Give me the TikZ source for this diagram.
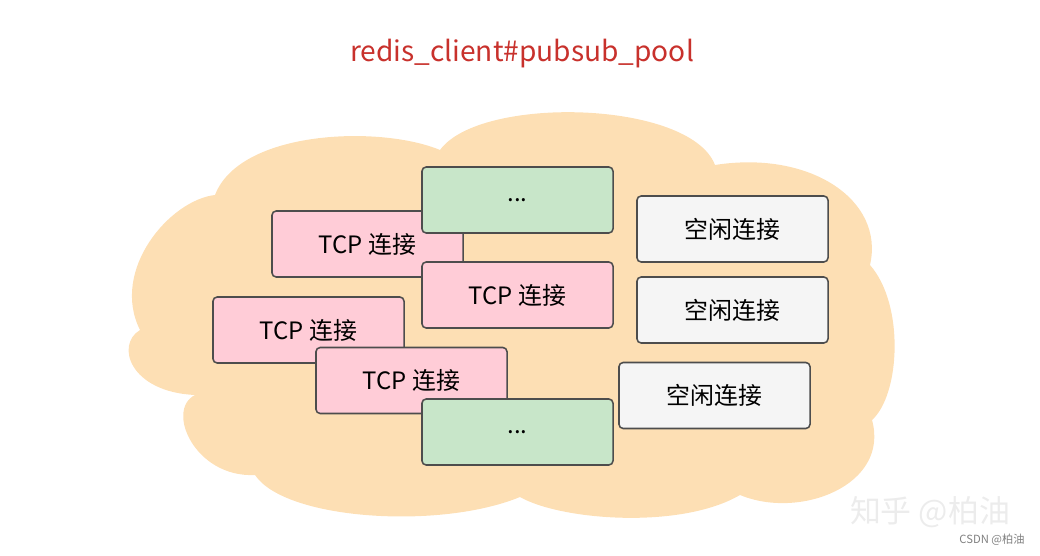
\documentclass[tikz,border=0pt]{standalone}
\usepackage{fontspec}
\setmainfont{Noto Sans CJK SC}
\usetikzlibrary{positioning}
\definecolor{cloudfill}{HTML}{FDDFB4}
\definecolor{tcpfill}{HTML}{FFCCD7}
\definecolor{dotsfill}{HTML}{C8E6C9}
\definecolor{idlefill}{HTML}{F5F5F5}
\definecolor{titlered}{HTML}{C8312C}
\definecolor{edgegray}{HTML}{4D4D4D}

\begin{document}
\begin{tikzpicture}
[x=0.025cm,y=-0.025cm,
 conn/.style={draw=edgegray,line width=1.1pt,rounded corners=3pt,minimum width=4.775cm,minimum height=1.65cm,inner sep=0pt,font=\fontsize{17}{20}\selectfont},
 tcpbox/.style={conn,fill=tcpfill},
 dotsbox/.style={conn,fill=dotsfill},
 idlebox/.style={conn,fill=idlefill}]
\useasboundingbox (0,0) rectangle (1040,556);

% title
\node[text=titlered,font=\fontsize{20}{24}\selectfont](title) at (522,54){redis\_client\#pubsub\_pool};

% cloud
\fill[cloudfill] (140,330) .. controls (110,270) and (170,200) .. (215,195)
 .. controls (240,130) and (380,125) .. (440,150)
 .. controls (480,95) and (690,100) .. (715,165)
 .. controls (810,150) and (885,200) .. (870,265)
 .. controls (905,305) and (900,395) .. (872,420)
 .. controls (890,485) and (800,520) .. (740,495)
 .. controls (680,530) and (560,520) .. (520,497)
 .. controls (440,530) and (285,520) .. (255,475)
 .. controls (195,478) and (165,410) .. (195,395)
 .. controls (130,392) and (115,345) .. (140,330) -- cycle;

% busy connections
\node[tcpbox](tcpa) at (367.5,244){TCP 连接};
\node[dotsbox](dotsa) at (517.5,200){...};
\node[tcpbox](tcpb) at (517.5,295){TCP 连接};
\node[tcpbox](tcpc) at (308.5,330){TCP 连接};
\node[tcpbox](tcpd) at (411.5,380.5){TCP 连接};
\node[dotsbox](dotsb) at (517.5,432){...};

% idle connections
\node[idlebox](idlea) at (732.5,229){空闲连接};
\node[idlebox](idleb) at (732.5,310){空闲连接};
\node[idlebox](idlec) at (714.5,395.5){空闲连接};

% watermark
\node[text=white!85!gray,font=\fontsize{22}{26}\selectfont](wmark) at (930,512){知乎 @柏油};
\node[text=gray,font=\fontsize{8}{10}\selectfont](csdn) at (992,540){CSDN @柏油};
\end{tikzpicture}
\end{document}
